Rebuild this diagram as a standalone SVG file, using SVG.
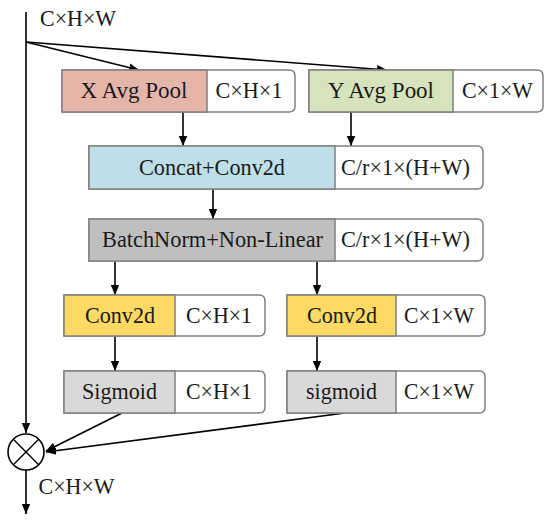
<svg xmlns="http://www.w3.org/2000/svg" width="550" height="521" viewBox="0 0 550 521">
<defs>
<marker id="arr" markerWidth="10" markerHeight="10" viewBox="0 0 10 10" refX="10" refY="5" orient="auto" markerUnits="userSpaceOnUse">
<path d="M0,0.8 L10,5 L0,9.2 Z" fill="#000"/>
</marker>
<style>
.t{font-family:"Liberation Serif","Times New Roman",serif;font-size:24px;fill:#1a1a1a;text-anchor:middle}
.b{stroke:#808080;stroke-width:1.5}
.o{fill:#fff;stroke:#808080;stroke-width:1.5}
.c{stroke:#000;stroke-width:1.6;fill:none}
</style>
</defs>
<rect width="550" height="521" fill="#fff"/>
<g id="connectors">
<line class="c" x1="26" y1="12" x2="26" y2="433" marker-end="url(#arr)"/>
<line class="c" x1="26" y1="42" x2="139" y2="70" marker-end="url(#arr)"/>
<line class="c" x1="26" y1="42" x2="387" y2="70" marker-end="url(#arr)"/>
<line class="c" x1="183" y1="112" x2="183" y2="146" marker-end="url(#arr)"/>
<line class="c" x1="351" y1="112" x2="351" y2="146" marker-end="url(#arr)"/>
<line class="c" x1="213" y1="189" x2="213" y2="219" marker-end="url(#arr)"/>
<line class="c" x1="115" y1="261" x2="115" y2="295" marker-end="url(#arr)"/>
<line class="c" x1="317" y1="261" x2="317" y2="295" marker-end="url(#arr)"/>
<line class="c" x1="115" y1="336" x2="115" y2="371" marker-end="url(#arr)"/>
<line class="c" x1="317" y1="336" x2="317" y2="371" marker-end="url(#arr)"/>
<line class="c" x1="122" y1="413" x2="46" y2="451" marker-end="url(#arr)"/>
<line class="c" x1="345" y1="413" x2="46" y2="452" marker-end="url(#arr)"/>
<line class="c" x1="26" y1="470" x2="26" y2="514" marker-end="url(#arr)"/>
</g>
<g id="label-top"><text class="t" x="78" y="26" textLength="76" lengthAdjust="spacingAndGlyphs">C×H×W</text></g>
<g id="label-bottom"><text class="t" x="76.5" y="494" textLength="76" lengthAdjust="spacingAndGlyphs">C×H×W</text></g>
<g id="mult">
<circle cx="26" cy="452" r="18" fill="#fff" stroke="#000" stroke-width="1.6"/>
<line x1="13.3" y1="439.3" x2="38.7" y2="464.7" stroke="#000" stroke-width="1.4"/>
<line x1="38.7" y1="439.3" x2="13.3" y2="464.7" stroke="#000" stroke-width="1.4"/>
</g>
<g id="xpool">
<path class="o" d="M62,70 H289 Q295,70 295,76 V106 Q295,112 289,112 H62 Z"/>
<rect class="b" x="62" y="70" width="145" height="42" fill="#E6B5AA"/>
<text class="t" x="134" y="98" textLength="107" lengthAdjust="spacingAndGlyphs">X Avg Pool</text>
<text class="t" x="249" y="98" textLength="67" lengthAdjust="spacingAndGlyphs">C×H×1</text>
</g>
<g id="ypool">
<path class="o" d="M309,70 H537 Q543,70 543,76 V106 Q543,112 537,112 H309 Z"/>
<rect class="b" x="309" y="70" width="144" height="42" fill="#D6E3BC"/>
<text class="t" x="381" y="98" textLength="106" lengthAdjust="spacingAndGlyphs">Y Avg Pool</text>
<text class="t" x="497.5" y="98" textLength="71" lengthAdjust="spacingAndGlyphs">C×1×W</text>
</g>
<g id="concat">
<path class="o" d="M89,146 H477 Q483,146 483,152 V183 Q483,189 477,189 H89 Z"/>
<rect class="b" x="89" y="146" width="246" height="43" fill="#BEDFE8"/>
<text class="t" x="212" y="175" textLength="146" lengthAdjust="spacingAndGlyphs">Concat+Conv2d</text>
<text class="t" x="405.5" y="175" textLength="129" lengthAdjust="spacingAndGlyphs">C/r×1×(H+W)</text>
</g>
<g id="bn">
<path class="o" d="M89,219 H477 Q483,219 483,225 V255 Q483,261 477,261 H89 Z"/>
<rect class="b" x="89" y="219" width="246" height="42" fill="#BFBFBF"/>
<text class="t" x="212.5" y="247" textLength="221" lengthAdjust="spacingAndGlyphs">BatchNorm+Non-Linear</text>
<text class="t" x="405.5" y="247" textLength="129" lengthAdjust="spacingAndGlyphs">C/r×1×(H+W)</text>
</g>
<g id="conv-h">
<path class="o" d="M64,295 H259 Q265,295 265,301 V330 Q265,336 259,336 H64 Z"/>
<rect class="b" x="64" y="295" width="111" height="41" fill="#FFD966"/>
<text class="t" x="120" y="323" textLength="70" lengthAdjust="spacingAndGlyphs">Conv2d</text>
<text class="t" x="219" y="323" textLength="66" lengthAdjust="spacingAndGlyphs">C×H×1</text>
</g>
<g id="conv-w">
<path class="o" d="M287,295 H479 Q485,295 485,301 V330 Q485,336 479,336 H287 Z"/>
<rect class="b" x="287" y="295" width="109" height="41" fill="#FFD966"/>
<text class="t" x="342" y="323" textLength="70" lengthAdjust="spacingAndGlyphs">Conv2d</text>
<text class="t" x="439" y="323" textLength="70" lengthAdjust="spacingAndGlyphs">C×1×W</text>
</g>
<g id="sig-h">
<path class="o" d="M64,371 H259 Q265,371 265,377 V407 Q265,413 259,413 H64 Z"/>
<rect class="b" x="64" y="371" width="111" height="42" fill="#D9D9D9"/>
<text class="t" x="119.5" y="399" textLength="75" lengthAdjust="spacingAndGlyphs">Sigmoid</text>
<text class="t" x="219" y="399" textLength="66" lengthAdjust="spacingAndGlyphs">C×H×1</text>
</g>
<g id="sig-w">
<path class="o" d="M287,371 H479 Q485,371 485,377 V407 Q485,413 479,413 H287 Z"/>
<rect class="b" x="287" y="371" width="109" height="42" fill="#D9D9D9"/>
<text class="t" x="341.5" y="399" textLength="71" lengthAdjust="spacingAndGlyphs">sigmoid</text>
<text class="t" x="439" y="399" textLength="70" lengthAdjust="spacingAndGlyphs">C×1×W</text>
</g>
</svg>
